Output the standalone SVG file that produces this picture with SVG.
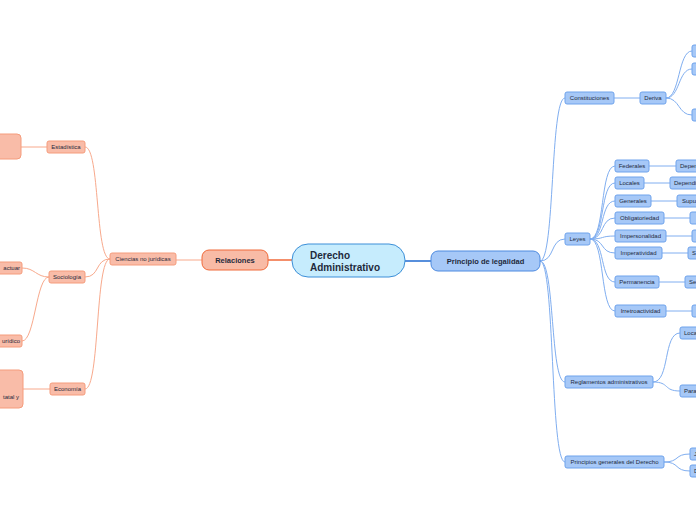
<svg xmlns="http://www.w3.org/2000/svg" width="696" height="520" viewBox="0 0 696 520">
<style>
text{font-family:"Liberation Sans",Arial,sans-serif;fill:#1e2a3c}
.b{fill:#a6c8f7;stroke:#6fa3ec;stroke-width:1}
.o{fill:#f9bca8;stroke:#f59c7c;stroke-width:1}
.s{font-size:6px;text-anchor:middle}
.sl{font-size:6px}
.cb{fill:none;stroke:#80aef0;stroke-width:1}
.co{fill:none;stroke:#f8a98c;stroke-width:1}
</style>
<rect width="696" height="520" fill="#fff"/>
<g id="connectors">
<path d="M405 261H431" stroke="#1f6ad0" stroke-width="1.5" fill="none"/>
<path d="M268 260H292" stroke="#f06a3a" stroke-width="1.5" fill="none"/>
<path class="cb" d="M540 261C555 261 550 98 565 98M540 261C555 261 550 239 565 239M540 261C555 261 550 382 565 382M540 261C555 261 550 462 565 462"/>
<path class="cb" d="M614 98H640M666 98C680 98 678 51 692 51M666 98C680 98 678 69 692 69M666 98C680 98 678 115 692 115"/>
<path class="cb" d="M590 239C605 239 600 166 615 166M590 239C605 239 600 183 615 183M590 239C605 239 600 201 615 201M590 239C605 239 600 218 615 218M590 239C605 239 600 236 615 236M590 239C605 239 600 253 615 253M590 239C605 239 600 282 615 282M590 239C605 239 600 311 615 311"/>
<path class="cb" d="M649 166H676M644 183H670M651 201H677M664 218H690M666 236H692M662 253H688M659 282H685M666 311H692"/>
<path class="cb" d="M653 382C670 382 663 333 680 333M653 382C670 382 663 391 680 391M664 462C680 462 674 454 690 454M664 462C680 462 674 471 690 471"/>
<path class="co" d="M202 260H176M110 259C95 259 100 147 85 147M110 259C95 259 100 277 85 277M110 259C95 259 100 389 85 389M47 147H21M49 277C36 277 35 268 22 268M49 277C36 277 35 341 22 341M50 389H23"/>
</g>
<g id="center"><rect x="292" y="244" width="113" height="33" rx="16" fill="#c6ecfd" stroke="#3c8fd8"/><text x="310" y="259" font-size="10" font-weight="bold">Derecho</text><text x="310" y="271" font-size="10" font-weight="bold">Administrativo</text></g>
<g id="principio"><rect x="431" y="251" width="109" height="20" rx="7" fill="#a6c8f7" stroke="#4d8ae0"/><text x="485.5" y="264" font-size="7.5" font-weight="bold" text-anchor="middle">Principio de legalidad</text></g>
<g id="relaciones"><rect x="202" y="250" width="66" height="20" rx="7" fill="#f8bba6" stroke="#f06a3a"/><text x="235" y="263" font-size="7.5" font-weight="bold" text-anchor="middle">Relaciones</text></g>
<g id="constituciones"><rect class="b" x="565" y="92" width="49" height="12" rx="2"/><text class="s" x="589.5" y="100">Constituciones</text></g>
<g id="deriva"><rect class="b" x="640" y="92" width="26" height="12" rx="2"/><text class="s" x="653" y="100">Deriva</text></g>
<g id="d1"><rect class="b" x="692" y="45" width="20" height="12" rx="2"/></g>
<g id="d2"><rect class="b" x="692" y="63" width="20" height="12" rx="2"/></g>
<g id="d3"><rect class="b" x="692" y="109" width="20" height="12" rx="2"/></g>
<g id="leyes"><rect class="b" x="565" y="233" width="25" height="12" rx="2"/><text class="s" x="577.5" y="241">Leyes</text></g>
<g id="federales"><rect class="b" x="615" y="160" width="34" height="12" rx="2"/><text class="s" x="632" y="168">Federales</text></g>
<g id="locales"><rect class="b" x="615" y="177" width="29" height="12" rx="2"/><text class="s" x="629.5" y="185">Locales</text></g>
<g id="generales"><rect class="b" x="615" y="195" width="36" height="12" rx="2"/><text class="s" x="633" y="203">Generales</text></g>
<g id="obligatoriedad"><rect class="b" x="615" y="212" width="49" height="12" rx="2"/><text class="s" x="639.5" y="220">Obligatoriedad</text></g>
<g id="impersonalidad"><rect class="b" x="615" y="230" width="51" height="12" rx="2"/><text class="s" x="640.5" y="238">Impersonalidad</text></g>
<g id="imperatividad"><rect class="b" x="615" y="247" width="47" height="12" rx="2"/><text class="s" x="638.5" y="255">Imperatividad</text></g>
<g id="permanencia"><rect class="b" x="615" y="276" width="44" height="12" rx="2"/><text class="s" x="637" y="284">Permanencia</text></g>
<g id="irretroactividad"><rect class="b" x="615" y="305" width="51" height="12" rx="2"/><text class="s" x="640.5" y="313">Irretroactividad</text></g>
<g id="l1"><rect class="b" x="676" y="160" width="30" height="12" rx="2"/><text class="sl" x="680" y="168">Depen</text></g>
<g id="l2"><rect class="b" x="670" y="177" width="36" height="12" rx="2"/><text class="sl" x="674" y="185">Dependi</text></g>
<g id="l3"><rect class="b" x="677" y="195" width="30" height="12" rx="2"/><text class="sl" x="682" y="203">Supu</text></g>
<g id="l4"><rect class="b" x="690" y="212" width="20" height="12" rx="2"/></g>
<g id="l5"><rect class="b" x="692" y="230" width="20" height="12" rx="2"/></g>
<g id="l6"><rect class="b" x="688" y="247" width="20" height="12" rx="2"/><text class="sl" x="692" y="255">S</text></g>
<g id="l7"><rect class="b" x="685" y="276" width="20" height="12" rx="2"/><text class="sl" x="689" y="284">Se</text></g>
<g id="l8"><rect class="b" x="692" y="305" width="20" height="12" rx="2"/></g>
<g id="reglamentos"><rect class="b" x="565" y="376" width="88" height="12" rx="2"/><text class="s" x="609" y="384">Reglamentos administrativos</text></g>
<g id="r1"><rect class="b" x="680" y="327" width="30" height="12" rx="2"/><text class="sl" x="684" y="335">Loca</text></g>
<g id="r2"><rect class="b" x="680" y="385" width="30" height="12" rx="2"/><text class="sl" x="684" y="393">Para</text></g>
<g id="principios"><rect class="b" x="565" y="456" width="99" height="12" rx="2"/><text class="s" x="614.5" y="464">Principios generales del Derecho</text></g>
<g id="p1"><rect class="b" x="690" y="448" width="20" height="12" rx="2"/><text class="sl" x="694" y="456">J</text></g>
<g id="p2"><rect class="b" x="690" y="465" width="20" height="12" rx="2"/><text class="sl" x="694" y="473">D</text></g>
<g id="ciencias"><rect class="o" x="110" y="253" width="66" height="12" rx="2"/><text class="s" x="143" y="261">Ciencias no jurídicas</text></g>
<g id="estadistica"><rect class="o" x="47" y="141" width="38" height="12" rx="2"/><text class="s" x="66" y="149">Estadística</text></g>
<g id="sociologia"><rect class="o" x="49" y="271" width="36" height="12" rx="2"/><text class="s" x="67" y="279">Sociología</text></g>
<g id="economia"><rect class="o" x="50" y="383" width="35" height="12" rx="2"/><text class="s" x="67.5" y="391">Economía</text></g>
<g id="e1"><rect class="o" x="-10" y="134" width="31" height="25" rx="4"/></g>
<g id="s1"><rect class="o" x="-10" y="262" width="32" height="12" rx="2"/><text class="sl" x="20" y="270" text-anchor="end">actuar</text></g>
<g id="s2"><rect class="o" x="-10" y="335" width="32" height="12" rx="2"/><text class="sl" x="20" y="343" text-anchor="end">urídico</text></g>
<g id="ec1"><rect class="o" x="-10" y="370" width="33" height="38" rx="4"/><text class="sl" x="19" y="399" text-anchor="end">tatal y</text></g>
</svg>
